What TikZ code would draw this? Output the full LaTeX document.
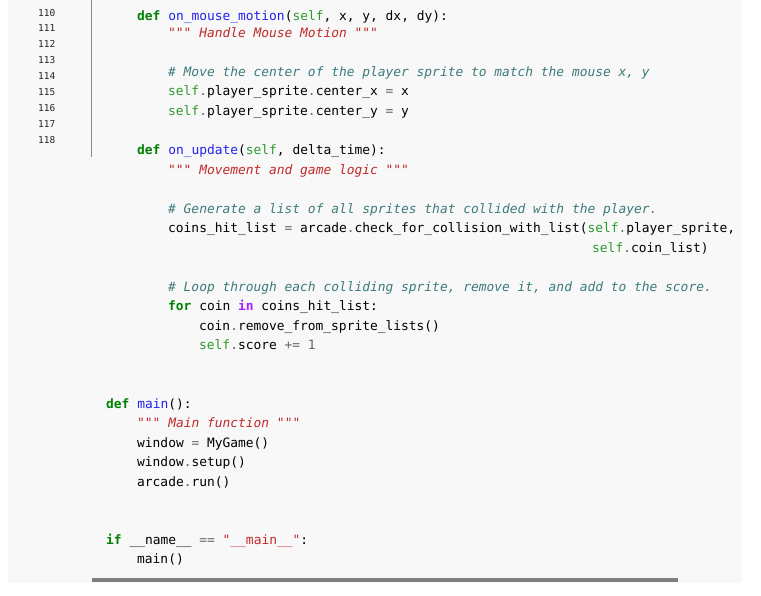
\documentclass[tikz,border=0pt]{standalone}
\usepackage{fontspec}
\newfontfamily\cf{DejaVu Sans Mono}
\definecolor{kwc}{HTML}{008000}
\definecolor{fnc}{HTML}{2222EE}
\definecolor{svc}{HTML}{2E9A2E}
\definecolor{dsc}{HTML}{C02A2A}
\definecolor{cmc}{HTML}{3D7B7B}
\definecolor{opc}{HTML}{666666}
\definecolor{inc}{HTML}{AA22FF}
\definecolor{bgc}{HTML}{F8F8F8}
\newcommand{\kw}[1]{\textcolor{kwc}{\bfseries #1}}
\newcommand{\fn}[1]{\textcolor{fnc}{#1}}
\newcommand{\sv}[1]{\textcolor{svc}{#1}}
\newcommand{\ds}[1]{\textcolor{dsc}{\itshape #1}}
\newcommand{\cm}[1]{\textcolor{cmc}{\itshape #1}}
\newcommand{\op}[1]{\textcolor{opc}{#1}}
\newcommand{\iw}[1]{\textcolor{inc}{\bfseries #1}}
\begin{document}
\begin{tikzpicture}[x=1pt,y=-1pt,
  code/.style={anchor=base west,inner sep=0pt,font=\cf\fontsize{12.9}{15}\selectfont},
  lno/.style={anchor=base west,inner sep=0pt,font=\cf\fontsize{9.5}{11}\selectfont,text=black!85}]
\useasboundingbox (0,0) rectangle (761,595);
\fill[bgc] (8,0) rectangle (742,583);
\draw[black!45,line width=0.8pt] (91,0) -- (91,157);
\draw[black!50,line width=4pt] (92,580) -- (678,580);
\foreach \n [count=\i from 0] in {110,...,118}
  \node[lno] (n\n) at (38,16+15.9*\i) {\n};
\node[code] (a1) at (137,20) {\kw{def} \fn{on\_mouse\_motion}(\sv{self}, x, y, dx, dy):};
\node[code] (a2) at (168,37) {\ds{""" Handle Mouse Motion """}};
\node[code] (a3) at (168,76) {\cm{\# Move the center of the player sprite to match the mouse x, y}};
\node[code] (a4) at (168,95) {\sv{self}\op{.}player\_sprite\op{.}center\_x \op{=} x};
\node[code] (a5) at (168,115) {\sv{self}\op{.}player\_sprite\op{.}center\_y \op{=} y};
\node[code] (b1) at (137,154) {\kw{def} \fn{on\_update}(\sv{self}, delta\_time):};
\node[code] (b2) at (168,174) {\ds{""" Movement and game logic """}};
\node[code] (b3) at (168,213) {\cm{\# Generate a list of all sprites that collided with the player.}};
\node[code] (b4) at (168,232) {coins\_hit\_list \op{=} arcade\op{.}check\_for\_collision\_with\_list(\sv{self}\op{.}player\_sprite,};
\node[code] (b5) at (592,252) {\sv{self}\op{.}coin\_list)};
\node[code] (b6) at (168,291) {\cm{\# Loop through each colliding sprite, remove it, and add to the score.}};
\node[code] (b7) at (168,310) {\kw{for} coin \iw{in} coins\_hit\_list:};
\node[code] (b8) at (199,330) {coin\op{.}remove\_from\_sprite\_lists()};
\node[code] (b9) at (199,349) {\sv{self}\op{.}score \op{+=} \op{1}};
\node[code] (c1) at (106,408) {\kw{def} \fn{main}():};
\node[code] (c2) at (137,427) {\ds{""" Main function """}};
\node[code] (c3) at (137,447) {window \op{=} MyGame()};
\node[code] (c4) at (137,466) {window\op{.}setup()};
\node[code] (c5) at (137,486) {arcade\op{.}run()};
\node[code] (d1) at (106,544) {\kw{if} \_\_name\_\_ \op{==} \textcolor{dsc}{"\_\_main\_\_"}:};
\node[code] (d2) at (137,563) {main()};
\end{tikzpicture}
\end{document}
